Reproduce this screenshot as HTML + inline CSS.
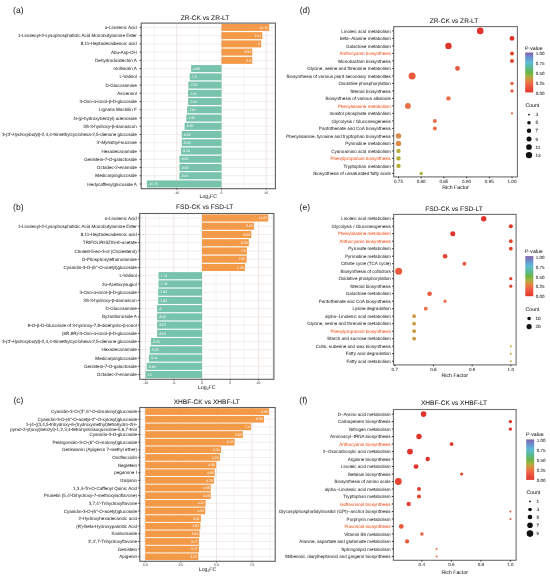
<!DOCTYPE html><html><head><meta charset="utf-8"><style>html,body{margin:0;padding:0;background:#fff;}svg{display:block;will-change:transform;text-rendering:geometricPrecision;}</style></head><body><div id="w">
<svg width="550" height="577" viewBox="0 0 550 577" font-family='"Liberation Sans", sans-serif'>
<rect width="550" height="577" fill="#fff"/>
<text x="13.10" y="13.40" font-size="8.5" text-anchor="start" fill="#2a2a2a" stroke="#2a2a2a" stroke-width="0.04">(a)</text>
<text x="205.00" y="20.40" font-size="6.6" text-anchor="middle" fill="#1a1a1a" stroke="#1a1a1a" stroke-width="0.04">ZR-CK vs ZR-LT</text>
<line x1="141.2" y1="27.40" x2="275.4" y2="27.40" stroke="#eee5e2" stroke-width="0.7"/>
<line x1="141.2" y1="35.64" x2="275.4" y2="35.64" stroke="#eee5e2" stroke-width="0.7"/>
<line x1="141.2" y1="43.88" x2="275.4" y2="43.88" stroke="#eee5e2" stroke-width="0.7"/>
<line x1="141.2" y1="52.12" x2="275.4" y2="52.12" stroke="#eee5e2" stroke-width="0.7"/>
<line x1="141.2" y1="60.36" x2="275.4" y2="60.36" stroke="#eee5e2" stroke-width="0.7"/>
<line x1="141.2" y1="68.60" x2="275.4" y2="68.60" stroke="#eee5e2" stroke-width="0.7"/>
<line x1="141.2" y1="76.84" x2="275.4" y2="76.84" stroke="#eee5e2" stroke-width="0.7"/>
<line x1="141.2" y1="85.08" x2="275.4" y2="85.08" stroke="#eee5e2" stroke-width="0.7"/>
<line x1="141.2" y1="93.32" x2="275.4" y2="93.32" stroke="#eee5e2" stroke-width="0.7"/>
<line x1="141.2" y1="101.56" x2="275.4" y2="101.56" stroke="#eee5e2" stroke-width="0.7"/>
<line x1="141.2" y1="109.80" x2="275.4" y2="109.80" stroke="#eee5e2" stroke-width="0.7"/>
<line x1="141.2" y1="118.04" x2="275.4" y2="118.04" stroke="#eee5e2" stroke-width="0.7"/>
<line x1="141.2" y1="126.28" x2="275.4" y2="126.28" stroke="#eee5e2" stroke-width="0.7"/>
<line x1="141.2" y1="134.52" x2="275.4" y2="134.52" stroke="#eee5e2" stroke-width="0.7"/>
<line x1="141.2" y1="142.76" x2="275.4" y2="142.76" stroke="#eee5e2" stroke-width="0.7"/>
<line x1="141.2" y1="151.00" x2="275.4" y2="151.00" stroke="#eee5e2" stroke-width="0.7"/>
<line x1="141.2" y1="159.24" x2="275.4" y2="159.24" stroke="#eee5e2" stroke-width="0.7"/>
<line x1="141.2" y1="167.48" x2="275.4" y2="167.48" stroke="#eee5e2" stroke-width="0.7"/>
<line x1="141.2" y1="175.72" x2="275.4" y2="175.72" stroke="#eee5e2" stroke-width="0.7"/>
<line x1="141.2" y1="183.96" x2="275.4" y2="183.96" stroke="#eee5e2" stroke-width="0.7"/>
<line x1="154.45" y1="23.1" x2="154.45" y2="188.7" stroke="#f4f0ee" stroke-width="0.8"/>
<line x1="199.15" y1="23.1" x2="199.15" y2="188.7" stroke="#f4f0ee" stroke-width="0.8"/>
<line x1="243.85" y1="23.1" x2="243.85" y2="188.7" stroke="#f4f0ee" stroke-width="0.8"/>
<line x1="176.80" y1="23.1" x2="176.80" y2="188.7" stroke="#ebe2df" stroke-width="0.9"/>
<line x1="221.50" y1="23.1" x2="221.50" y2="188.7" stroke="#ebe2df" stroke-width="0.9"/>
<line x1="266.20" y1="23.1" x2="266.20" y2="188.7" stroke="#ebe2df" stroke-width="0.9"/>
<rect x="221.50" y="23.90" width="47.69" height="7.00" fill="#f39a48"/>
<text x="267.99" y="28.60" font-size="3.4" text-anchor="end" fill="#fdf0e4" stroke="#fdf0e4" stroke-width="0.04">10.75</text>
<rect x="221.50" y="32.14" width="40.81" height="7.00" fill="#f39a48"/>
<text x="261.11" y="36.84" font-size="3.4" text-anchor="end" fill="#fdf0e4" stroke="#fdf0e4" stroke-width="0.04">9.11</text>
<rect x="221.50" y="40.38" width="39.69" height="7.00" fill="#f39a48"/>
<text x="259.99" y="45.08" font-size="3.4" text-anchor="end" fill="#fdf0e4" stroke="#fdf0e4" stroke-width="0.04">9</text>
<rect x="221.50" y="48.62" width="30.75" height="7.00" fill="#f39a48"/>
<text x="251.05" y="53.32" font-size="3.4" text-anchor="end" fill="#fdf0e4" stroke="#fdf0e4" stroke-width="0.04">6.93</text>
<rect x="221.50" y="56.86" width="30.75" height="7.00" fill="#f39a48"/>
<text x="251.05" y="61.56" font-size="3.4" text-anchor="end" fill="#fdf0e4" stroke="#fdf0e4" stroke-width="0.04">6.9</text>
<rect x="191.15" y="65.10" width="30.35" height="7.00" fill="#77c3ac"/>
<text x="192.35" y="69.80" font-size="3.4" text-anchor="start" fill="#eaf6f2" stroke="#eaf6f2" stroke-width="0.04">-6.86</text>
<rect x="189.67" y="73.34" width="31.83" height="7.00" fill="#77c3ac"/>
<text x="190.87" y="78.04" font-size="3.4" text-anchor="start" fill="#eaf6f2" stroke="#eaf6f2" stroke-width="0.04">-7.2</text>
<rect x="188.38" y="81.58" width="33.12" height="7.00" fill="#77c3ac"/>
<text x="189.58" y="86.28" font-size="3.4" text-anchor="start" fill="#eaf6f2" stroke="#eaf6f2" stroke-width="0.04">-7.50</text>
<rect x="188.06" y="89.82" width="33.44" height="7.00" fill="#77c3ac"/>
<text x="189.26" y="94.52" font-size="3.4" text-anchor="start" fill="#eaf6f2" stroke="#eaf6f2" stroke-width="0.04">-7.51</text>
<rect x="188.06" y="98.06" width="33.44" height="7.00" fill="#77c3ac"/>
<text x="189.26" y="102.76" font-size="3.4" text-anchor="start" fill="#eaf6f2" stroke="#eaf6f2" stroke-width="0.04">-7.54</text>
<rect x="187.17" y="106.30" width="34.33" height="7.00" fill="#77c3ac"/>
<text x="188.37" y="111.00" font-size="3.4" text-anchor="start" fill="#eaf6f2" stroke="#eaf6f2" stroke-width="0.04">-7.81</text>
<rect x="186.28" y="114.54" width="35.22" height="7.00" fill="#77c3ac"/>
<text x="187.48" y="119.24" font-size="3.4" text-anchor="start" fill="#eaf6f2" stroke="#eaf6f2" stroke-width="0.04">-7.87</text>
<rect x="184.58" y="122.78" width="36.92" height="7.00" fill="#77c3ac"/>
<text x="185.78" y="127.48" font-size="3.4" text-anchor="start" fill="#eaf6f2" stroke="#eaf6f2" stroke-width="0.04">-8.35</text>
<rect x="181.72" y="131.02" width="39.78" height="7.00" fill="#77c3ac"/>
<text x="182.92" y="135.72" font-size="3.4" text-anchor="start" fill="#eaf6f2" stroke="#eaf6f2" stroke-width="0.04">-8.86</text>
<rect x="181.72" y="139.26" width="39.78" height="7.00" fill="#77c3ac"/>
<text x="182.92" y="143.96" font-size="3.4" text-anchor="start" fill="#eaf6f2" stroke="#eaf6f2" stroke-width="0.04">-9.03</text>
<rect x="180.91" y="147.50" width="40.59" height="7.00" fill="#77c3ac"/>
<text x="182.11" y="152.20" font-size="3.4" text-anchor="start" fill="#eaf6f2" stroke="#eaf6f2" stroke-width="0.04">-9.19</text>
<rect x="179.44" y="155.74" width="42.06" height="7.00" fill="#77c3ac"/>
<text x="180.64" y="160.44" font-size="3.4" text-anchor="start" fill="#eaf6f2" stroke="#eaf6f2" stroke-width="0.04">-9.55</text>
<rect x="179.44" y="163.98" width="42.06" height="7.00" fill="#77c3ac"/>
<text x="180.64" y="168.68" font-size="3.4" text-anchor="start" fill="#eaf6f2" stroke="#eaf6f2" stroke-width="0.04">-9.58</text>
<rect x="179.44" y="172.22" width="42.06" height="7.00" fill="#77c3ac"/>
<text x="180.64" y="176.92" font-size="3.4" text-anchor="start" fill="#eaf6f2" stroke="#eaf6f2" stroke-width="0.04">-9.61</text>
<rect x="146.85" y="180.46" width="74.65" height="7.00" fill="#77c3ac"/>
<text x="148.05" y="185.16" font-size="3.4" text-anchor="start" fill="#eaf6f2" stroke="#eaf6f2" stroke-width="0.04">-16.76</text>
<rect x="141.2" y="23.1" width="134.2" height="165.6" fill="none" stroke="#5e5e5e" stroke-width="1.1"/>
<line x1="139.6" y1="27.40" x2="141.2" y2="27.40" stroke="#222" stroke-width="0.8"/>
<text x="136.80" y="29.00" font-size="4.55" text-anchor="end" fill="#303030" stroke="#303030" stroke-width="0.04">α-Linolenic Acid</text>
<line x1="139.6" y1="35.64" x2="141.2" y2="35.64" stroke="#222" stroke-width="0.8"/>
<text x="136.80" y="37.24" font-size="4.55" text-anchor="end" fill="#303030" stroke="#303030" stroke-width="0.04">1-Linoleoyl-2-Lysophosphatidic Acid Monobutylamine Ester</text>
<line x1="139.6" y1="43.88" x2="141.2" y2="43.88" stroke="#222" stroke-width="0.8"/>
<text x="136.80" y="45.48" font-size="4.55" text-anchor="end" fill="#303030" stroke="#303030" stroke-width="0.04">8,11-Heptadecadienoic acid</text>
<line x1="139.6" y1="52.12" x2="141.2" y2="52.12" stroke="#222" stroke-width="0.8"/>
<text x="136.80" y="53.72" font-size="4.55" text-anchor="end" fill="#303030" stroke="#303030" stroke-width="0.04">Abu-Asp-OH</text>
<line x1="139.6" y1="60.36" x2="141.2" y2="60.36" stroke="#222" stroke-width="0.8"/>
<text x="136.80" y="61.96" font-size="4.55" text-anchor="end" fill="#303030" stroke="#303030" stroke-width="0.04">Dehydrodicatechin A</text>
<line x1="139.6" y1="68.60" x2="141.2" y2="68.60" stroke="#222" stroke-width="0.8"/>
<text x="136.80" y="70.20" font-size="4.55" text-anchor="end" fill="#303030" stroke="#303030" stroke-width="0.04">mollisorin A</text>
<line x1="139.6" y1="76.84" x2="141.2" y2="76.84" stroke="#222" stroke-width="0.8"/>
<text x="136.80" y="78.44" font-size="4.55" text-anchor="end" fill="#303030" stroke="#303030" stroke-width="0.04">L-Valinol</text>
<line x1="139.6" y1="85.08" x2="141.2" y2="85.08" stroke="#222" stroke-width="0.8"/>
<text x="136.80" y="86.68" font-size="4.55" text-anchor="end" fill="#303030" stroke="#303030" stroke-width="0.04">D-Glucosamine</text>
<line x1="139.6" y1="93.32" x2="141.2" y2="93.32" stroke="#222" stroke-width="0.8"/>
<text x="136.80" y="94.92" font-size="4.55" text-anchor="end" fill="#303030" stroke="#303030" stroke-width="0.04">Avicennol</text>
<line x1="139.6" y1="101.56" x2="141.2" y2="101.56" stroke="#222" stroke-width="0.8"/>
<text x="136.80" y="103.16" font-size="4.55" text-anchor="end" fill="#303030" stroke="#303030" stroke-width="0.04">3-Oxo-α-ionol-β-D-glucoside</text>
<line x1="139.6" y1="109.80" x2="141.2" y2="109.80" stroke="#222" stroke-width="0.8"/>
<text x="136.80" y="111.40" font-size="4.55" text-anchor="end" fill="#303030" stroke="#303030" stroke-width="0.04">Lignans Machilin F</text>
<line x1="139.6" y1="118.04" x2="141.2" y2="118.04" stroke="#222" stroke-width="0.8"/>
<text x="136.80" y="119.64" font-size="4.55" text-anchor="end" fill="#303030" stroke="#303030" stroke-width="0.04">N-(p-hydroxybenzyl) adenosine</text>
<line x1="139.6" y1="126.28" x2="141.2" y2="126.28" stroke="#222" stroke-width="0.8"/>
<text x="136.80" y="127.88" font-size="4.55" text-anchor="end" fill="#303030" stroke="#303030" stroke-width="0.04">3S-3-hydroxy-β-damascon</text>
<line x1="139.6" y1="134.52" x2="141.2" y2="134.52" stroke="#222" stroke-width="0.8"/>
<text x="136.80" y="136.12" font-size="4.55" text-anchor="end" fill="#303030" stroke="#303030" stroke-width="0.04">3-<tspan font-style="italic">(3'-Hydroxybutyl)</tspan>-2,4,4-trimethylcyclohexa-2,5-dienone glucoside</text>
<line x1="139.6" y1="142.76" x2="141.2" y2="142.76" stroke="#222" stroke-width="0.8"/>
<text x="136.80" y="144.36" font-size="4.55" text-anchor="end" fill="#303030" stroke="#303030" stroke-width="0.04">3'-<tspan font-style="italic">Myristoyl</tspan>-sucrose</text>
<line x1="139.6" y1="151.00" x2="141.2" y2="151.00" stroke="#222" stroke-width="0.8"/>
<text x="136.80" y="152.60" font-size="4.55" text-anchor="end" fill="#303030" stroke="#303030" stroke-width="0.04">Hexadecanamide</text>
<line x1="139.6" y1="159.24" x2="141.2" y2="159.24" stroke="#222" stroke-width="0.8"/>
<text x="136.80" y="160.84" font-size="4.55" text-anchor="end" fill="#303030" stroke="#303030" stroke-width="0.04">Genistein-7-O-galactoside</text>
<line x1="139.6" y1="167.48" x2="141.2" y2="167.48" stroke="#222" stroke-width="0.8"/>
<text x="136.80" y="169.08" font-size="4.55" text-anchor="end" fill="#303030" stroke="#303030" stroke-width="0.04">Octadec-2-enamide</text>
<line x1="139.6" y1="175.72" x2="141.2" y2="175.72" stroke="#222" stroke-width="0.8"/>
<text x="136.80" y="177.32" font-size="4.55" text-anchor="end" fill="#303030" stroke="#303030" stroke-width="0.04">Medicarpinglucoside</text>
<line x1="139.6" y1="183.96" x2="141.2" y2="183.96" stroke="#222" stroke-width="0.8"/>
<text x="136.80" y="185.56" font-size="4.55" text-anchor="end" fill="#303030" stroke="#303030" stroke-width="0.04">Hedycaffeoylglucoside A</text>
<line x1="176.80" y1="188.7" x2="176.80" y2="190.1" stroke="#333" stroke-width="0.6"/>
<text x="176.80" y="193.70" font-size="3.4" text-anchor="middle" fill="#444" stroke="#444" stroke-width="0.04">-10</text>
<line x1="221.50" y1="188.7" x2="221.50" y2="190.1" stroke="#333" stroke-width="0.6"/>
<text x="221.50" y="193.70" font-size="3.4" text-anchor="middle" fill="#444" stroke="#444" stroke-width="0.04">0</text>
<line x1="266.20" y1="188.7" x2="266.20" y2="190.1" stroke="#333" stroke-width="0.6"/>
<text x="266.20" y="193.70" font-size="3.4" text-anchor="middle" fill="#444" stroke="#444" stroke-width="0.04">10</text>
<text x="208.30" y="197.50" font-size="5.2" text-anchor="middle" fill="#222">Log<tspan font-size="3.4" dy="1.2">2</tspan><tspan dy="-1.2">FC</tspan></text>
<text x="13.10" y="209.90" font-size="8.5" text-anchor="start" fill="#2a2a2a" stroke="#2a2a2a" stroke-width="0.04">(b)</text>
<text x="204.70" y="209.20" font-size="6.6" text-anchor="middle" fill="#1a1a1a" stroke="#1a1a1a" stroke-width="0.04">FSD-CK vs FSD-LT</text>
<line x1="139.7" y1="218.00" x2="273.9" y2="218.00" stroke="#eee5e2" stroke-width="0.7"/>
<line x1="139.7" y1="226.24" x2="273.9" y2="226.24" stroke="#eee5e2" stroke-width="0.7"/>
<line x1="139.7" y1="234.48" x2="273.9" y2="234.48" stroke="#eee5e2" stroke-width="0.7"/>
<line x1="139.7" y1="242.72" x2="273.9" y2="242.72" stroke="#eee5e2" stroke-width="0.7"/>
<line x1="139.7" y1="250.96" x2="273.9" y2="250.96" stroke="#eee5e2" stroke-width="0.7"/>
<line x1="139.7" y1="259.20" x2="273.9" y2="259.20" stroke="#eee5e2" stroke-width="0.7"/>
<line x1="139.7" y1="267.44" x2="273.9" y2="267.44" stroke="#eee5e2" stroke-width="0.7"/>
<line x1="139.7" y1="275.68" x2="273.9" y2="275.68" stroke="#eee5e2" stroke-width="0.7"/>
<line x1="139.7" y1="283.92" x2="273.9" y2="283.92" stroke="#eee5e2" stroke-width="0.7"/>
<line x1="139.7" y1="292.16" x2="273.9" y2="292.16" stroke="#eee5e2" stroke-width="0.7"/>
<line x1="139.7" y1="300.40" x2="273.9" y2="300.40" stroke="#eee5e2" stroke-width="0.7"/>
<line x1="139.7" y1="308.64" x2="273.9" y2="308.64" stroke="#eee5e2" stroke-width="0.7"/>
<line x1="139.7" y1="316.88" x2="273.9" y2="316.88" stroke="#eee5e2" stroke-width="0.7"/>
<line x1="139.7" y1="325.12" x2="273.9" y2="325.12" stroke="#eee5e2" stroke-width="0.7"/>
<line x1="139.7" y1="333.36" x2="273.9" y2="333.36" stroke="#eee5e2" stroke-width="0.7"/>
<line x1="139.7" y1="341.60" x2="273.9" y2="341.60" stroke="#eee5e2" stroke-width="0.7"/>
<line x1="139.7" y1="349.84" x2="273.9" y2="349.84" stroke="#eee5e2" stroke-width="0.7"/>
<line x1="139.7" y1="358.08" x2="273.9" y2="358.08" stroke="#eee5e2" stroke-width="0.7"/>
<line x1="139.7" y1="366.32" x2="273.9" y2="366.32" stroke="#eee5e2" stroke-width="0.7"/>
<line x1="139.7" y1="374.56" x2="273.9" y2="374.56" stroke="#eee5e2" stroke-width="0.7"/>
<line x1="159.70" y1="213.5" x2="159.70" y2="379.3" stroke="#f4f0ee" stroke-width="0.8"/>
<line x1="187.90" y1="213.5" x2="187.90" y2="379.3" stroke="#f4f0ee" stroke-width="0.8"/>
<line x1="216.10" y1="213.5" x2="216.10" y2="379.3" stroke="#f4f0ee" stroke-width="0.8"/>
<line x1="244.30" y1="213.5" x2="244.30" y2="379.3" stroke="#f4f0ee" stroke-width="0.8"/>
<line x1="272.50" y1="213.5" x2="272.50" y2="379.3" stroke="#f4f0ee" stroke-width="0.8"/>
<line x1="145.60" y1="213.5" x2="145.60" y2="379.3" stroke="#ebe2df" stroke-width="0.9"/>
<line x1="173.80" y1="213.5" x2="173.80" y2="379.3" stroke="#ebe2df" stroke-width="0.9"/>
<line x1="202.00" y1="213.5" x2="202.00" y2="379.3" stroke="#ebe2df" stroke-width="0.9"/>
<line x1="230.20" y1="213.5" x2="230.20" y2="379.3" stroke="#ebe2df" stroke-width="0.9"/>
<line x1="258.40" y1="213.5" x2="258.40" y2="379.3" stroke="#ebe2df" stroke-width="0.9"/>
<rect x="202.00" y="214.45" width="66.21" height="7.10" fill="#f39a48"/>
<text x="267.01" y="219.20" font-size="3.4" text-anchor="end" fill="#fdf0e4" stroke="#fdf0e4" stroke-width="0.04">11.03</text>
<rect x="202.00" y="222.69" width="51.89" height="7.10" fill="#f39a48"/>
<text x="252.69" y="227.44" font-size="3.4" text-anchor="end" fill="#fdf0e4" stroke="#fdf0e4" stroke-width="0.04">9.15</text>
<rect x="202.00" y="230.93" width="49.29" height="7.10" fill="#f39a48"/>
<text x="250.09" y="235.68" font-size="3.4" text-anchor="end" fill="#fdf0e4" stroke="#fdf0e4" stroke-width="0.04">8.58</text>
<rect x="202.00" y="239.17" width="46.81" height="7.10" fill="#f39a48"/>
<text x="247.61" y="243.92" font-size="3.4" text-anchor="end" fill="#fdf0e4" stroke="#fdf0e4" stroke-width="0.04">8.26</text>
<rect x="202.00" y="247.41" width="44.95" height="7.10" fill="#f39a48"/>
<text x="245.75" y="252.16" font-size="3.4" text-anchor="end" fill="#fdf0e4" stroke="#fdf0e4" stroke-width="0.04">7.9</text>
<rect x="202.00" y="255.65" width="44.61" height="7.10" fill="#f39a48"/>
<text x="245.41" y="260.40" font-size="3.4" text-anchor="end" fill="#fdf0e4" stroke="#fdf0e4" stroke-width="0.04">7.87</text>
<rect x="202.00" y="263.89" width="42.92" height="7.10" fill="#f39a48"/>
<text x="243.72" y="268.64" font-size="3.4" text-anchor="end" fill="#fdf0e4" stroke="#fdf0e4" stroke-width="0.04">7.59</text>
<rect x="158.52" y="272.13" width="43.48" height="7.10" fill="#77c3ac"/>
<text x="159.72" y="276.88" font-size="3.4" text-anchor="start" fill="#eaf6f2" stroke="#eaf6f2" stroke-width="0.04">-7.71</text>
<rect x="158.52" y="280.37" width="43.48" height="7.10" fill="#77c3ac"/>
<text x="159.72" y="285.12" font-size="3.4" text-anchor="start" fill="#eaf6f2" stroke="#eaf6f2" stroke-width="0.04">-7.79</text>
<rect x="158.18" y="288.61" width="43.82" height="7.10" fill="#77c3ac"/>
<text x="159.38" y="293.36" font-size="3.4" text-anchor="start" fill="#eaf6f2" stroke="#eaf6f2" stroke-width="0.04">-7.83</text>
<rect x="158.18" y="296.85" width="43.82" height="7.10" fill="#77c3ac"/>
<text x="159.38" y="301.60" font-size="3.4" text-anchor="start" fill="#eaf6f2" stroke="#eaf6f2" stroke-width="0.04">-7.83</text>
<rect x="157.11" y="305.09" width="44.89" height="7.10" fill="#77c3ac"/>
<text x="158.31" y="309.84" font-size="3.4" text-anchor="start" fill="#eaf6f2" stroke="#eaf6f2" stroke-width="0.04">-8</text>
<rect x="157.11" y="313.33" width="44.89" height="7.10" fill="#77c3ac"/>
<text x="158.31" y="318.08" font-size="3.4" text-anchor="start" fill="#eaf6f2" stroke="#eaf6f2" stroke-width="0.04">-8.00</text>
<rect x="157.11" y="321.57" width="44.89" height="7.10" fill="#77c3ac"/>
<text x="158.31" y="326.32" font-size="3.4" text-anchor="start" fill="#eaf6f2" stroke="#eaf6f2" stroke-width="0.04">-8.02</text>
<rect x="157.11" y="329.81" width="44.89" height="7.10" fill="#77c3ac"/>
<text x="158.31" y="334.56" font-size="3.4" text-anchor="start" fill="#eaf6f2" stroke="#eaf6f2" stroke-width="0.04">-8.02</text>
<rect x="150.96" y="338.05" width="51.04" height="7.10" fill="#77c3ac"/>
<text x="152.16" y="342.80" font-size="3.4" text-anchor="start" fill="#eaf6f2" stroke="#eaf6f2" stroke-width="0.04">-9.05</text>
<rect x="149.83" y="346.29" width="52.17" height="7.10" fill="#77c3ac"/>
<text x="151.03" y="351.04" font-size="3.4" text-anchor="start" fill="#eaf6f2" stroke="#eaf6f2" stroke-width="0.04">-9.25</text>
<rect x="148.87" y="354.53" width="53.13" height="7.10" fill="#77c3ac"/>
<text x="150.07" y="359.28" font-size="3.4" text-anchor="start" fill="#eaf6f2" stroke="#eaf6f2" stroke-width="0.04">-9.41</text>
<rect x="146.73" y="362.77" width="55.27" height="7.10" fill="#77c3ac"/>
<text x="147.93" y="367.52" font-size="3.4" text-anchor="start" fill="#eaf6f2" stroke="#eaf6f2" stroke-width="0.04">-9.84</text>
<rect x="145.49" y="371.01" width="56.51" height="7.10" fill="#77c3ac"/>
<text x="146.69" y="375.76" font-size="3.4" text-anchor="start" fill="#eaf6f2" stroke="#eaf6f2" stroke-width="0.04">-10</text>
<rect x="139.7" y="213.5" width="134.2" height="165.8" fill="none" stroke="#5e5e5e" stroke-width="1.1"/>
<line x1="138.1" y1="218.00" x2="139.7" y2="218.00" stroke="#222" stroke-width="0.8"/>
<text x="136.80" y="219.60" font-size="4.55" text-anchor="end" fill="#303030" stroke="#303030" stroke-width="0.04">α-Linolenic Acid</text>
<line x1="138.1" y1="226.24" x2="139.7" y2="226.24" stroke="#222" stroke-width="0.8"/>
<text x="136.80" y="227.84" font-size="4.55" text-anchor="end" fill="#303030" stroke="#303030" stroke-width="0.04">1-Linoleoyl-2-Lysophosphatidic Acid Monobutylamine Ester</text>
<line x1="138.1" y1="234.48" x2="139.7" y2="234.48" stroke="#222" stroke-width="0.8"/>
<text x="136.80" y="236.08" font-size="4.55" text-anchor="end" fill="#303030" stroke="#303030" stroke-width="0.04">8,11-Heptadecadienoic acid</text>
<line x1="138.1" y1="242.72" x2="139.7" y2="242.72" stroke="#222" stroke-width="0.8"/>
<text x="136.80" y="244.32" font-size="4.55" text-anchor="end" fill="#303030" stroke="#303030" stroke-width="0.04">TRIFOLIRHIZIN-6'-acetate</text>
<line x1="138.1" y1="250.96" x2="139.7" y2="250.96" stroke="#222" stroke-width="0.8"/>
<text x="136.80" y="252.56" font-size="4.55" text-anchor="end" fill="#303030" stroke="#303030" stroke-width="0.04">Cholest-5-en-3-ol (Cholesterol)</text>
<line x1="138.1" y1="259.20" x2="139.7" y2="259.20" stroke="#222" stroke-width="0.8"/>
<text x="136.80" y="260.80" font-size="4.55" text-anchor="end" fill="#303030" stroke="#303030" stroke-width="0.04">O-Phosphorylethanolamine</text>
<line x1="138.1" y1="267.44" x2="139.7" y2="267.44" stroke="#222" stroke-width="0.8"/>
<text x="136.80" y="269.04" font-size="4.55" text-anchor="end" fill="#303030" stroke="#303030" stroke-width="0.04">Cyanidin-3-O-(6''-O-acetyl)glucoside</text>
<line x1="138.1" y1="275.68" x2="139.7" y2="275.68" stroke="#222" stroke-width="0.8"/>
<text x="136.80" y="277.28" font-size="4.55" text-anchor="end" fill="#303030" stroke="#303030" stroke-width="0.04">L-Valinol</text>
<line x1="138.1" y1="283.92" x2="139.7" y2="283.92" stroke="#222" stroke-width="0.8"/>
<text x="136.80" y="285.52" font-size="4.55" text-anchor="end" fill="#303030" stroke="#303030" stroke-width="0.04">2α-Acetoxysugiol</text>
<line x1="138.1" y1="292.16" x2="139.7" y2="292.16" stroke="#222" stroke-width="0.8"/>
<text x="136.80" y="293.76" font-size="4.55" text-anchor="end" fill="#303030" stroke="#303030" stroke-width="0.04">3-Oxo-α-ionol-β-D-glucoside</text>
<line x1="138.1" y1="300.40" x2="139.7" y2="300.40" stroke="#222" stroke-width="0.8"/>
<text x="136.80" y="302.00" font-size="4.55" text-anchor="end" fill="#303030" stroke="#303030" stroke-width="0.04">3S-3-hydroxy-β-damascon</text>
<line x1="138.1" y1="308.64" x2="139.7" y2="308.64" stroke="#222" stroke-width="0.8"/>
<text x="136.80" y="310.24" font-size="4.55" text-anchor="end" fill="#303030" stroke="#303030" stroke-width="0.04">D-Glucosamine</text>
<line x1="138.1" y1="316.88" x2="139.7" y2="316.88" stroke="#222" stroke-width="0.8"/>
<text x="136.80" y="318.48" font-size="4.55" text-anchor="end" fill="#303030" stroke="#303030" stroke-width="0.04">Byzantionoside A</text>
<line x1="138.1" y1="325.12" x2="139.7" y2="325.12" stroke="#222" stroke-width="0.8"/>
<text x="136.80" y="326.72" font-size="4.55" text-anchor="end" fill="#303030" stroke="#303030" stroke-width="0.04">9-O-β-D-Glucoside of 3-hydroxy-7,8-didehydro-β-ionol</text>
<line x1="138.1" y1="333.36" x2="139.7" y2="333.36" stroke="#222" stroke-width="0.8"/>
<text x="136.80" y="334.96" font-size="4.55" text-anchor="end" fill="#303030" stroke="#303030" stroke-width="0.04">(6R,9R)-3-Oxo-α-ionol-β-D-glucoside</text>
<line x1="138.1" y1="341.60" x2="139.7" y2="341.60" stroke="#222" stroke-width="0.8"/>
<text x="136.80" y="343.20" font-size="4.55" text-anchor="end" fill="#303030" stroke="#303030" stroke-width="0.04">3-<tspan font-style="italic">(3'-Hydroxybutyl)</tspan>-2,4,4-trimethylcyclohexa-2,5-dienone glucoside</text>
<line x1="138.1" y1="349.84" x2="139.7" y2="349.84" stroke="#222" stroke-width="0.8"/>
<text x="136.80" y="351.44" font-size="4.55" text-anchor="end" fill="#303030" stroke="#303030" stroke-width="0.04">Hexadecanamide</text>
<line x1="138.1" y1="358.08" x2="139.7" y2="358.08" stroke="#222" stroke-width="0.8"/>
<text x="136.80" y="359.68" font-size="4.55" text-anchor="end" fill="#303030" stroke="#303030" stroke-width="0.04">Medicarpinglucoside</text>
<line x1="138.1" y1="366.32" x2="139.7" y2="366.32" stroke="#222" stroke-width="0.8"/>
<text x="136.80" y="367.92" font-size="4.55" text-anchor="end" fill="#303030" stroke="#303030" stroke-width="0.04">Genistein-7-O-galactoside</text>
<line x1="138.1" y1="374.56" x2="139.7" y2="374.56" stroke="#222" stroke-width="0.8"/>
<text x="136.80" y="376.16" font-size="4.55" text-anchor="end" fill="#303030" stroke="#303030" stroke-width="0.04">Octadec-2-enamide</text>
<line x1="145.60" y1="379.3" x2="145.60" y2="380.7" stroke="#333" stroke-width="0.6"/>
<text x="145.60" y="384.30" font-size="3.4" text-anchor="middle" fill="#444" stroke="#444" stroke-width="0.04">-10</text>
<line x1="173.80" y1="379.3" x2="173.80" y2="380.7" stroke="#333" stroke-width="0.6"/>
<text x="173.80" y="384.30" font-size="3.4" text-anchor="middle" fill="#444" stroke="#444" stroke-width="0.04">-5</text>
<line x1="202.00" y1="379.3" x2="202.00" y2="380.7" stroke="#333" stroke-width="0.6"/>
<text x="202.00" y="384.30" font-size="3.4" text-anchor="middle" fill="#444" stroke="#444" stroke-width="0.04">0</text>
<line x1="230.20" y1="379.3" x2="230.20" y2="380.7" stroke="#333" stroke-width="0.6"/>
<text x="230.20" y="384.30" font-size="3.4" text-anchor="middle" fill="#444" stroke="#444" stroke-width="0.04">5</text>
<line x1="258.40" y1="379.3" x2="258.40" y2="380.7" stroke="#333" stroke-width="0.6"/>
<text x="258.40" y="384.30" font-size="3.4" text-anchor="middle" fill="#444" stroke="#444" stroke-width="0.04">10</text>
<text x="206.80" y="389.00" font-size="5.2" text-anchor="middle" fill="#222">Log<tspan font-size="3.4" dy="1.2">2</tspan><tspan dy="-1.2">FC</tspan></text>
<text x="13.50" y="403.00" font-size="8.5" text-anchor="start" fill="#2a2a2a" stroke="#2a2a2a" stroke-width="0.04">(c)</text>
<text x="206.80" y="403.80" font-size="6.6" text-anchor="middle" fill="#1a1a1a" stroke="#1a1a1a" stroke-width="0.04">XHBF-CK vs XHBF-LT</text>
<line x1="139.8" y1="411.60" x2="275.2" y2="411.60" stroke="#eee5e2" stroke-width="0.7"/>
<line x1="139.8" y1="419.24" x2="275.2" y2="419.24" stroke="#eee5e2" stroke-width="0.7"/>
<line x1="139.8" y1="426.88" x2="275.2" y2="426.88" stroke="#eee5e2" stroke-width="0.7"/>
<line x1="139.8" y1="434.52" x2="275.2" y2="434.52" stroke="#eee5e2" stroke-width="0.7"/>
<line x1="139.8" y1="442.16" x2="275.2" y2="442.16" stroke="#eee5e2" stroke-width="0.7"/>
<line x1="139.8" y1="449.80" x2="275.2" y2="449.80" stroke="#eee5e2" stroke-width="0.7"/>
<line x1="139.8" y1="457.44" x2="275.2" y2="457.44" stroke="#eee5e2" stroke-width="0.7"/>
<line x1="139.8" y1="465.08" x2="275.2" y2="465.08" stroke="#eee5e2" stroke-width="0.7"/>
<line x1="139.8" y1="472.72" x2="275.2" y2="472.72" stroke="#eee5e2" stroke-width="0.7"/>
<line x1="139.8" y1="480.36" x2="275.2" y2="480.36" stroke="#eee5e2" stroke-width="0.7"/>
<line x1="139.8" y1="488.00" x2="275.2" y2="488.00" stroke="#eee5e2" stroke-width="0.7"/>
<line x1="139.8" y1="495.64" x2="275.2" y2="495.64" stroke="#eee5e2" stroke-width="0.7"/>
<line x1="139.8" y1="503.28" x2="275.2" y2="503.28" stroke="#eee5e2" stroke-width="0.7"/>
<line x1="139.8" y1="510.92" x2="275.2" y2="510.92" stroke="#eee5e2" stroke-width="0.7"/>
<line x1="139.8" y1="518.56" x2="275.2" y2="518.56" stroke="#eee5e2" stroke-width="0.7"/>
<line x1="139.8" y1="526.20" x2="275.2" y2="526.20" stroke="#eee5e2" stroke-width="0.7"/>
<line x1="139.8" y1="533.84" x2="275.2" y2="533.84" stroke="#eee5e2" stroke-width="0.7"/>
<line x1="139.8" y1="541.48" x2="275.2" y2="541.48" stroke="#eee5e2" stroke-width="0.7"/>
<line x1="139.8" y1="549.12" x2="275.2" y2="549.12" stroke="#eee5e2" stroke-width="0.7"/>
<line x1="139.8" y1="556.76" x2="275.2" y2="556.76" stroke="#eee5e2" stroke-width="0.7"/>
<line x1="163.01" y1="407.5" x2="163.01" y2="561.3" stroke="#f4f0ee" stroke-width="0.8"/>
<line x1="198.64" y1="407.5" x2="198.64" y2="561.3" stroke="#f4f0ee" stroke-width="0.8"/>
<line x1="234.26" y1="407.5" x2="234.26" y2="561.3" stroke="#f4f0ee" stroke-width="0.8"/>
<line x1="269.89" y1="407.5" x2="269.89" y2="561.3" stroke="#f4f0ee" stroke-width="0.8"/>
<line x1="145.20" y1="407.5" x2="145.20" y2="561.3" stroke="#ebe2df" stroke-width="0.9"/>
<line x1="180.82" y1="407.5" x2="180.82" y2="561.3" stroke="#ebe2df" stroke-width="0.9"/>
<line x1="216.45" y1="407.5" x2="216.45" y2="561.3" stroke="#ebe2df" stroke-width="0.9"/>
<line x1="252.07" y1="407.5" x2="252.07" y2="561.3" stroke="#ebe2df" stroke-width="0.9"/>
<rect x="145.20" y="408.25" width="123.83" height="6.70" fill="#f39a48"/>
<text x="267.83" y="412.80" font-size="3.4" text-anchor="end" fill="#fdf0e4" stroke="#fdf0e4" stroke-width="0.04">8.66</text>
<rect x="145.20" y="415.89" width="118.84" height="6.70" fill="#f39a48"/>
<text x="262.84" y="420.44" font-size="3.4" text-anchor="end" fill="#fdf0e4" stroke="#fdf0e4" stroke-width="0.04">8.33</text>
<rect x="145.20" y="423.53" width="105.74" height="6.70" fill="#f39a48"/>
<text x="249.74" y="428.08" font-size="3.4" text-anchor="end" fill="#fdf0e4" stroke="#fdf0e4" stroke-width="0.04">7.4</text>
<rect x="145.20" y="431.17" width="97.61" height="6.70" fill="#f39a48"/>
<text x="241.61" y="435.72" font-size="3.4" text-anchor="end" fill="#fdf0e4" stroke="#fdf0e4" stroke-width="0.04">6.83</text>
<rect x="145.20" y="438.81" width="89.35" height="6.70" fill="#f39a48"/>
<text x="233.35" y="443.36" font-size="3.4" text-anchor="end" fill="#fdf0e4" stroke="#fdf0e4" stroke-width="0.04">6.26</text>
<rect x="145.20" y="446.45" width="75.81" height="6.70" fill="#f39a48"/>
<text x="219.81" y="451.00" font-size="3.4" text-anchor="end" fill="#fdf0e4" stroke="#fdf0e4" stroke-width="0.04">5.31</text>
<rect x="145.20" y="454.09" width="74.67" height="6.70" fill="#f39a48"/>
<text x="218.67" y="458.64" font-size="3.4" text-anchor="end" fill="#fdf0e4" stroke="#fdf0e4" stroke-width="0.04">5.23</text>
<rect x="145.20" y="461.73" width="70.97" height="6.70" fill="#f39a48"/>
<text x="214.97" y="466.28" font-size="3.4" text-anchor="end" fill="#fdf0e4" stroke="#fdf0e4" stroke-width="0.04">4.95</text>
<rect x="145.20" y="469.37" width="69.54" height="6.70" fill="#f39a48"/>
<text x="213.54" y="473.92" font-size="3.4" text-anchor="end" fill="#fdf0e4" stroke="#fdf0e4" stroke-width="0.04">4.86</text>
<rect x="145.20" y="477.01" width="68.69" height="6.70" fill="#f39a48"/>
<text x="212.69" y="481.56" font-size="3.4" text-anchor="end" fill="#fdf0e4" stroke="#fdf0e4" stroke-width="0.04">4.79</text>
<rect x="145.20" y="484.65" width="65.55" height="6.70" fill="#f39a48"/>
<text x="209.55" y="489.20" font-size="3.4" text-anchor="end" fill="#fdf0e4" stroke="#fdf0e4" stroke-width="0.04">4.58</text>
<rect x="145.20" y="492.29" width="65.55" height="6.70" fill="#f39a48"/>
<text x="209.55" y="496.84" font-size="3.4" text-anchor="end" fill="#fdf0e4" stroke="#fdf0e4" stroke-width="0.04">4.58</text>
<rect x="145.20" y="499.93" width="60.42" height="6.70" fill="#f39a48"/>
<text x="204.42" y="504.48" font-size="3.4" text-anchor="end" fill="#fdf0e4" stroke="#fdf0e4" stroke-width="0.04">4.24</text>
<rect x="145.20" y="507.57" width="59.99" height="6.70" fill="#f39a48"/>
<text x="203.99" y="512.12" font-size="3.4" text-anchor="end" fill="#fdf0e4" stroke="#fdf0e4" stroke-width="0.04">4.21</text>
<rect x="145.20" y="515.21" width="55.72" height="6.70" fill="#f39a48"/>
<text x="199.72" y="519.76" font-size="3.4" text-anchor="end" fill="#fdf0e4" stroke="#fdf0e4" stroke-width="0.04">3.91</text>
<rect x="145.20" y="522.85" width="55.15" height="6.70" fill="#f39a48"/>
<text x="199.15" y="527.40" font-size="3.4" text-anchor="end" fill="#fdf0e4" stroke="#fdf0e4" stroke-width="0.04">3.87</text>
<rect x="145.20" y="530.49" width="54.29" height="6.70" fill="#f39a48"/>
<text x="198.29" y="535.04" font-size="3.4" text-anchor="end" fill="#fdf0e4" stroke="#fdf0e4" stroke-width="0.04">3.81</text>
<rect x="145.20" y="538.13" width="53.72" height="6.70" fill="#f39a48"/>
<text x="197.72" y="542.68" font-size="3.4" text-anchor="end" fill="#fdf0e4" stroke="#fdf0e4" stroke-width="0.04">3.77</text>
<rect x="145.20" y="545.77" width="53.72" height="6.70" fill="#f39a48"/>
<text x="197.72" y="550.32" font-size="3.4" text-anchor="end" fill="#fdf0e4" stroke="#fdf0e4" stroke-width="0.04">3.77</text>
<rect x="145.20" y="553.41" width="53.01" height="6.70" fill="#f39a48"/>
<text x="197.01" y="557.96" font-size="3.4" text-anchor="end" fill="#fdf0e4" stroke="#fdf0e4" stroke-width="0.04">3.72</text>
<rect x="139.8" y="407.5" width="135.39999999999998" height="153.79999999999995" fill="none" stroke="#5e5e5e" stroke-width="1.1"/>
<line x1="138.20000000000002" y1="411.60" x2="139.8" y2="411.60" stroke="#222" stroke-width="0.8"/>
<text x="137.00" y="413.20" font-size="4.55" text-anchor="end" fill="#303030" stroke="#303030" stroke-width="0.04">Cyanidin-3-O-(3'',6''-O-dimalonyl)glucoside</text>
<line x1="138.20000000000002" y1="419.24" x2="139.8" y2="419.24" stroke="#222" stroke-width="0.8"/>
<text x="137.00" y="420.84" font-size="4.55" text-anchor="end" fill="#303030" stroke="#303030" stroke-width="0.04">Cyanidin-3-O-(6''-O-acetyl-2''-O-xylosyl)glucoside</text>
<line x1="138.20000000000002" y1="426.88" x2="139.8" y2="426.88" stroke="#222" stroke-width="0.8"/>
<text x="137.00" y="425.68" font-size="4.55" text-anchor="end" fill="#303030" stroke="#303030" stroke-width="0.04">1-(4-((3,4,5-trihydroxy-6-(hydroxymethyl)tetrahydro-2H-</text>
<text x="137.00" y="431.08" font-size="4.55" text-anchor="end" fill="#303030" stroke="#303030" stroke-width="0.04">pyran-2-yl)oxy)benzyl)-1,2,3,4-tetrahydroisoquinoline-5,6,7-triol</text>
<line x1="138.20000000000002" y1="434.52" x2="139.8" y2="434.52" stroke="#222" stroke-width="0.8"/>
<text x="137.00" y="436.12" font-size="4.55" text-anchor="end" fill="#303030" stroke="#303030" stroke-width="0.04">Cyanidin-3-O-glucoside</text>
<line x1="138.20000000000002" y1="442.16" x2="139.8" y2="442.16" stroke="#222" stroke-width="0.8"/>
<text x="137.00" y="443.76" font-size="4.55" text-anchor="end" fill="#303030" stroke="#303030" stroke-width="0.04">Pelargonidin-3-O-(6''-O-malonyl)glucoside</text>
<line x1="138.20000000000002" y1="449.80" x2="139.8" y2="449.80" stroke="#222" stroke-width="0.8"/>
<text x="137.00" y="451.40" font-size="4.55" text-anchor="end" fill="#303030" stroke="#303030" stroke-width="0.04">Genkwanin (Apigenin 7-methyl ether)</text>
<line x1="138.20000000000002" y1="457.44" x2="139.8" y2="457.44" stroke="#222" stroke-width="0.8"/>
<text x="137.00" y="459.04" font-size="4.55" text-anchor="end" fill="#303030" stroke="#303030" stroke-width="0.04">Oxoflaccidin</text>
<line x1="138.20000000000002" y1="465.08" x2="139.8" y2="465.08" stroke="#222" stroke-width="0.8"/>
<text x="137.00" y="466.68" font-size="4.55" text-anchor="end" fill="#303030" stroke="#303030" stroke-width="0.04">Negletein</text>
<line x1="138.20000000000002" y1="472.72" x2="139.8" y2="472.72" stroke="#222" stroke-width="0.8"/>
<text x="137.00" y="474.32" font-size="4.55" text-anchor="end" fill="#303030" stroke="#303030" stroke-width="0.04">peganone Ⅰ</text>
<line x1="138.20000000000002" y1="480.36" x2="139.8" y2="480.36" stroke="#222" stroke-width="0.8"/>
<text x="137.00" y="481.96" font-size="4.55" text-anchor="end" fill="#303030" stroke="#303030" stroke-width="0.04">Izalpinin</text>
<line x1="138.20000000000002" y1="488.00" x2="139.8" y2="488.00" stroke="#222" stroke-width="0.8"/>
<text x="137.00" y="489.60" font-size="4.55" text-anchor="end" fill="#303030" stroke="#303030" stroke-width="0.04">1,3,4-Tri-O-Caffeoyl Quinic Acid</text>
<line x1="138.20000000000002" y1="495.64" x2="139.8" y2="495.64" stroke="#222" stroke-width="0.8"/>
<text x="137.00" y="497.24" font-size="4.55" text-anchor="end" fill="#303030" stroke="#303030" stroke-width="0.04">Prunetin (5,4'-Dihydroxy-7-methoxyisoflavone)</text>
<line x1="138.20000000000002" y1="503.28" x2="139.8" y2="503.28" stroke="#222" stroke-width="0.8"/>
<text x="137.00" y="504.88" font-size="4.55" text-anchor="end" fill="#303030" stroke="#303030" stroke-width="0.04">3,7,4'-Trihydroxyflavone</text>
<line x1="138.20000000000002" y1="510.92" x2="139.8" y2="510.92" stroke="#222" stroke-width="0.8"/>
<text x="137.00" y="512.52" font-size="4.55" text-anchor="end" fill="#303030" stroke="#303030" stroke-width="0.04">Cyanidin-3-O-(6''-O-acetyl)glucoside</text>
<line x1="138.20000000000002" y1="518.56" x2="139.8" y2="518.56" stroke="#222" stroke-width="0.8"/>
<text x="137.00" y="520.16" font-size="4.55" text-anchor="end" fill="#303030" stroke="#303030" stroke-width="0.04">2-Hydroxyhexadecanoic acid</text>
<line x1="138.20000000000002" y1="526.20" x2="139.8" y2="526.20" stroke="#222" stroke-width="0.8"/>
<text x="137.00" y="527.80" font-size="4.55" text-anchor="end" fill="#303030" stroke="#303030" stroke-width="0.04">(R)-Beta-Hydroxypalmitic Acid</text>
<line x1="138.20000000000002" y1="533.84" x2="139.8" y2="533.84" stroke="#222" stroke-width="0.8"/>
<text x="137.00" y="535.44" font-size="4.55" text-anchor="end" fill="#303030" stroke="#303030" stroke-width="0.04">Koaburaside</text>
<line x1="138.20000000000002" y1="541.48" x2="139.8" y2="541.48" stroke="#222" stroke-width="0.8"/>
<text x="137.00" y="543.08" font-size="4.55" text-anchor="end" fill="#303030" stroke="#303030" stroke-width="0.04">3',4',7-Trihydroxyflavone</text>
<line x1="138.20000000000002" y1="549.12" x2="139.8" y2="549.12" stroke="#222" stroke-width="0.8"/>
<text x="137.00" y="550.72" font-size="4.55" text-anchor="end" fill="#303030" stroke="#303030" stroke-width="0.04">Genistein</text>
<line x1="138.20000000000002" y1="556.76" x2="139.8" y2="556.76" stroke="#222" stroke-width="0.8"/>
<text x="137.00" y="558.36" font-size="4.55" text-anchor="end" fill="#303030" stroke="#303030" stroke-width="0.04">Apigenin</text>
<line x1="145.20" y1="561.3" x2="145.20" y2="562.6999999999999" stroke="#333" stroke-width="0.6"/>
<text x="145.20" y="566.30" font-size="3.4" text-anchor="middle" fill="#444" stroke="#444" stroke-width="0.04">0.0</text>
<line x1="180.82" y1="561.3" x2="180.82" y2="562.6999999999999" stroke="#333" stroke-width="0.6"/>
<text x="180.82" y="566.30" font-size="3.4" text-anchor="middle" fill="#444" stroke="#444" stroke-width="0.04">2.5</text>
<line x1="216.45" y1="561.3" x2="216.45" y2="562.6999999999999" stroke="#333" stroke-width="0.6"/>
<text x="216.45" y="566.30" font-size="3.4" text-anchor="middle" fill="#444" stroke="#444" stroke-width="0.04">5.0</text>
<line x1="252.07" y1="561.3" x2="252.07" y2="562.6999999999999" stroke="#333" stroke-width="0.6"/>
<text x="252.07" y="566.30" font-size="3.4" text-anchor="middle" fill="#444" stroke="#444" stroke-width="0.04">7.5</text>
<text x="207.50" y="571.00" font-size="5.2" text-anchor="middle" fill="#222">Log<tspan font-size="3.4" dy="1.2">2</tspan><tspan dy="-1.2">FC</tspan></text>
<text x="299.70" y="12.80" font-size="8.5" text-anchor="start" fill="#2a2a2a" stroke="#2a2a2a" stroke-width="0.04">(d)</text>
<text x="454.00" y="22.80" font-size="6.6" text-anchor="middle" fill="#1a1a1a" stroke="#1a1a1a" stroke-width="0.04">ZR-CK vs ZR-LT</text>
<rect x="393.7" y="26.6" width="123.69999999999999" height="150.3" fill="none" stroke="#6e6e6e" stroke-width="1.1"/>
<line x1="392.09999999999997" y1="30.90" x2="393.7" y2="30.90" stroke="#222" stroke-width="0.9"/>
<text x="390.90" y="32.50" font-size="4.55" text-anchor="end" fill="#303030" stroke="#303030" stroke-width="0.04">Linoleic acid metabolism</text>
<line x1="392.09999999999997" y1="38.40" x2="393.7" y2="38.40" stroke="#222" stroke-width="0.9"/>
<text x="390.90" y="40.00" font-size="4.55" text-anchor="end" fill="#303030" stroke="#303030" stroke-width="0.04">beta−Alanine metabolism</text>
<line x1="392.09999999999997" y1="45.90" x2="393.7" y2="45.90" stroke="#222" stroke-width="0.9"/>
<text x="390.90" y="47.50" font-size="4.55" text-anchor="end" fill="#303030" stroke="#303030" stroke-width="0.04">Galactose metabolism</text>
<line x1="392.09999999999997" y1="53.40" x2="393.7" y2="53.40" stroke="#222" stroke-width="0.9"/>
<text x="390.90" y="55.00" font-size="4.55" text-anchor="end" fill="#ee5724" stroke="#ee5724" stroke-width="0.04">Anthocyanin biosynthesis</text>
<line x1="392.09999999999997" y1="60.90" x2="393.7" y2="60.90" stroke="#222" stroke-width="0.9"/>
<text x="390.90" y="62.50" font-size="4.55" text-anchor="end" fill="#303030" stroke="#303030" stroke-width="0.04">Monobactam biosynthesis</text>
<line x1="392.09999999999997" y1="68.40" x2="393.7" y2="68.40" stroke="#222" stroke-width="0.9"/>
<text x="390.90" y="70.00" font-size="4.55" text-anchor="end" fill="#303030" stroke="#303030" stroke-width="0.04">Glycine, serine and threonine metabolism</text>
<line x1="392.09999999999997" y1="75.90" x2="393.7" y2="75.90" stroke="#222" stroke-width="0.9"/>
<text x="390.90" y="77.50" font-size="4.55" text-anchor="end" fill="#303030" stroke="#303030" stroke-width="0.04">Biosynthesis of various plant secondary metabolites</text>
<line x1="392.09999999999997" y1="83.40" x2="393.7" y2="83.40" stroke="#222" stroke-width="0.9"/>
<text x="390.90" y="85.00" font-size="4.55" text-anchor="end" fill="#303030" stroke="#303030" stroke-width="0.04">Oxidative phosphorylation</text>
<line x1="392.09999999999997" y1="90.90" x2="393.7" y2="90.90" stroke="#222" stroke-width="0.9"/>
<text x="390.90" y="92.50" font-size="4.55" text-anchor="end" fill="#303030" stroke="#303030" stroke-width="0.04">Steroid biosynthesis</text>
<line x1="392.09999999999997" y1="98.40" x2="393.7" y2="98.40" stroke="#222" stroke-width="0.9"/>
<text x="390.90" y="100.00" font-size="4.55" text-anchor="end" fill="#303030" stroke="#303030" stroke-width="0.04">Biosynthesis of various alkaloids</text>
<line x1="392.09999999999997" y1="105.90" x2="393.7" y2="105.90" stroke="#222" stroke-width="0.9"/>
<text x="390.90" y="107.50" font-size="4.55" text-anchor="end" fill="#ee5724" stroke="#ee5724" stroke-width="0.04">Phenylalanine metabolism</text>
<line x1="392.09999999999997" y1="113.40" x2="393.7" y2="113.40" stroke="#222" stroke-width="0.9"/>
<text x="390.90" y="115.00" font-size="4.55" text-anchor="end" fill="#303030" stroke="#303030" stroke-width="0.04">Inositol phosphate metabolism</text>
<line x1="392.09999999999997" y1="120.90" x2="393.7" y2="120.90" stroke="#222" stroke-width="0.9"/>
<text x="390.90" y="122.50" font-size="4.55" text-anchor="end" fill="#303030" stroke="#303030" stroke-width="0.04">Glycolysis / Gluconeogenesis</text>
<line x1="392.09999999999997" y1="128.40" x2="393.7" y2="128.40" stroke="#222" stroke-width="0.9"/>
<text x="390.90" y="130.00" font-size="4.55" text-anchor="end" fill="#303030" stroke="#303030" stroke-width="0.04">Pantothenate and CoA biosynthesis</text>
<line x1="392.09999999999997" y1="135.90" x2="393.7" y2="135.90" stroke="#222" stroke-width="0.9"/>
<text x="390.90" y="137.50" font-size="4.55" text-anchor="end" fill="#303030" stroke="#303030" stroke-width="0.04">Phenylalanine, tyrosine and tryptophan biosynthesis</text>
<line x1="392.09999999999997" y1="143.40" x2="393.7" y2="143.40" stroke="#222" stroke-width="0.9"/>
<text x="390.90" y="145.00" font-size="4.55" text-anchor="end" fill="#303030" stroke="#303030" stroke-width="0.04">Pyrimidine metabolism</text>
<line x1="392.09999999999997" y1="150.90" x2="393.7" y2="150.90" stroke="#222" stroke-width="0.9"/>
<text x="390.90" y="152.50" font-size="4.55" text-anchor="end" fill="#303030" stroke="#303030" stroke-width="0.04">Cyanoamino acid metabolism</text>
<line x1="392.09999999999997" y1="158.40" x2="393.7" y2="158.40" stroke="#222" stroke-width="0.9"/>
<text x="390.90" y="160.00" font-size="4.55" text-anchor="end" fill="#ee5724" stroke="#ee5724" stroke-width="0.04">Phenylpropanoid biosynthesis</text>
<line x1="392.09999999999997" y1="165.90" x2="393.7" y2="165.90" stroke="#222" stroke-width="0.9"/>
<text x="390.90" y="167.50" font-size="4.55" text-anchor="end" fill="#303030" stroke="#303030" stroke-width="0.04">Tryptophan metabolism</text>
<line x1="392.09999999999997" y1="173.40" x2="393.7" y2="173.40" stroke="#222" stroke-width="0.9"/>
<text x="390.90" y="175.00" font-size="4.55" text-anchor="end" fill="#303030" stroke="#303030" stroke-width="0.04">Biosynthesis of unsaturated fatty acids</text>
<circle cx="480.22" cy="30.90" r="3.3" fill="#e0332a"/>
<circle cx="512.00" cy="38.40" r="2.4" fill="#e0332a"/>
<circle cx="448.44" cy="45.90" r="3.2" fill="#e0332a"/>
<circle cx="512.00" cy="53.40" r="2.0" fill="#e4432f"/>
<circle cx="512.00" cy="60.90" r="2.0" fill="#e4432f"/>
<circle cx="457.52" cy="68.40" r="2.4" fill="#e85a3c"/>
<circle cx="412.12" cy="75.90" r="3.5" fill="#e85a3c"/>
<circle cx="512.00" cy="83.40" r="1.7" fill="#e85a3c"/>
<circle cx="512.00" cy="90.90" r="1.7" fill="#e85a3c"/>
<circle cx="448.44" cy="98.40" r="2.2" fill="#ec6e48"/>
<circle cx="407.90" cy="105.90" r="2.9" fill="#ec6e48"/>
<circle cx="512.00" cy="113.40" r="1.1" fill="#ec6e48"/>
<circle cx="434.82" cy="120.90" r="2.0" fill="#ec6e48"/>
<circle cx="434.82" cy="128.40" r="2.0" fill="#ec6e48"/>
<circle cx="398.50" cy="135.90" r="2.7" fill="#dc8a4a"/>
<circle cx="398.50" cy="143.40" r="2.7" fill="#dc8a4a"/>
<circle cx="398.50" cy="150.90" r="2.2" fill="#b8ae3c"/>
<circle cx="398.50" cy="158.40" r="2.2" fill="#b8ae3c"/>
<circle cx="398.50" cy="165.90" r="2.2" fill="#b8ae3c"/>
<circle cx="421.20" cy="173.40" r="1.7" fill="#a8b23c"/>
<line x1="398.50" y1="176.9" x2="398.50" y2="178.20000000000002" stroke="#111" stroke-width="0.9"/>
<text x="398.50" y="183.40" font-size="4.6" text-anchor="middle" fill="#333" stroke="#333" stroke-width="0.04">0.75</text>
<line x1="421.20" y1="176.9" x2="421.20" y2="178.20000000000002" stroke="#111" stroke-width="0.9"/>
<text x="421.20" y="183.40" font-size="4.6" text-anchor="middle" fill="#333" stroke="#333" stroke-width="0.04">0.80</text>
<line x1="443.90" y1="176.9" x2="443.90" y2="178.20000000000002" stroke="#111" stroke-width="0.9"/>
<text x="443.90" y="183.40" font-size="4.6" text-anchor="middle" fill="#333" stroke="#333" stroke-width="0.04">0.85</text>
<line x1="466.60" y1="176.9" x2="466.60" y2="178.20000000000002" stroke="#111" stroke-width="0.9"/>
<text x="466.60" y="183.40" font-size="4.6" text-anchor="middle" fill="#333" stroke="#333" stroke-width="0.04">0.90</text>
<line x1="489.30" y1="176.9" x2="489.30" y2="178.20000000000002" stroke="#111" stroke-width="0.9"/>
<text x="489.30" y="183.40" font-size="4.6" text-anchor="middle" fill="#333" stroke="#333" stroke-width="0.04">0.95</text>
<line x1="512.00" y1="176.9" x2="512.00" y2="178.20000000000002" stroke="#111" stroke-width="0.9"/>
<text x="512.00" y="183.40" font-size="4.6" text-anchor="middle" fill="#333" stroke="#333" stroke-width="0.04">1.00</text>
<text x="455.55" y="189.00" font-size="5.2" text-anchor="middle" fill="#222" stroke="#222" stroke-width="0.04">Rich Factor</text>
<text x="525.00" y="49.50" font-size="5.2" text-anchor="start" fill="#222" stroke="#222" stroke-width="0.04">P-value</text>
<defs><linearGradient id="gd" x1="0" y1="0" x2="0" y2="1"><stop offset="0" stop-color="#8560a8"/><stop offset="0.12" stop-color="#6a8fd0"/><stop offset="0.25" stop-color="#5cbcd4"/><stop offset="0.4" stop-color="#5cb88a"/><stop offset="0.5" stop-color="#6cb545"/><stop offset="0.6" stop-color="#a4b040"/><stop offset="0.7" stop-color="#e0883c"/><stop offset="0.8" stop-color="#ee6448"/><stop offset="1" stop-color="#e2362c"/></linearGradient></defs>
<rect x="525.2" y="52.5" width="8" height="39.900000000000006" fill="url(#gd)"/>
<text x="535.70" y="55.10" font-size="4.5" text-anchor="start" fill="#1a1a1a" stroke="#1a1a1a" stroke-width="0.04">1.00</text>
<text x="535.70" y="64.95" font-size="4.5" text-anchor="start" fill="#1a1a1a" stroke="#1a1a1a" stroke-width="0.04">0.75</text>
<text x="535.70" y="74.80" font-size="4.5" text-anchor="start" fill="#1a1a1a" stroke="#1a1a1a" stroke-width="0.04">0.50</text>
<text x="535.70" y="84.65" font-size="4.5" text-anchor="start" fill="#1a1a1a" stroke="#1a1a1a" stroke-width="0.04">0.25</text>
<text x="535.70" y="94.50" font-size="4.5" text-anchor="start" fill="#1a1a1a" stroke="#1a1a1a" stroke-width="0.04">0.00</text>
<text x="525.40" y="107.30" font-size="5.2" text-anchor="start" fill="#222" stroke="#222" stroke-width="0.04">Count</text>
<circle cx="529.0" cy="114.6" r="0.9" fill="#111"/>
<text x="535.40" y="116.20" font-size="4.7" text-anchor="start" fill="#111" stroke="#111" stroke-width="0.04">3</text>
<circle cx="529.0" cy="122.7" r="1.8" fill="#111"/>
<text x="535.40" y="124.30" font-size="4.7" text-anchor="start" fill="#111" stroke="#111" stroke-width="0.04">5</text>
<circle cx="529.0" cy="130.8" r="2.2" fill="#111"/>
<text x="535.40" y="132.40" font-size="4.7" text-anchor="start" fill="#111" stroke="#111" stroke-width="0.04">7</text>
<circle cx="529.0" cy="139.0" r="2.5" fill="#111"/>
<text x="535.40" y="140.60" font-size="4.7" text-anchor="start" fill="#111" stroke="#111" stroke-width="0.04">9</text>
<circle cx="529.0" cy="147.0" r="2.85" fill="#111"/>
<text x="535.40" y="148.60" font-size="4.7" text-anchor="start" fill="#111" stroke="#111" stroke-width="0.04">11</text>
<circle cx="529.0" cy="155.1" r="3.2" fill="#111"/>
<text x="535.40" y="156.70" font-size="4.7" text-anchor="start" fill="#111" stroke="#111" stroke-width="0.04">13</text>
<text x="299.60" y="210.00" font-size="8.5" text-anchor="start" fill="#2a2a2a" stroke="#2a2a2a" stroke-width="0.04">(e)</text>
<text x="454.00" y="210.90" font-size="6.6" text-anchor="middle" fill="#1a1a1a" stroke="#1a1a1a" stroke-width="0.04">FSD-CK vs FSD-LT</text>
<rect x="393.6" y="214.4" width="122.5" height="150.49999999999997" fill="none" stroke="#6e6e6e" stroke-width="1.1"/>
<line x1="392.0" y1="218.70" x2="393.6" y2="218.70" stroke="#222" stroke-width="0.9"/>
<text x="390.80" y="220.30" font-size="4.55" text-anchor="end" fill="#303030" stroke="#303030" stroke-width="0.04">Linoleic acid metabolism</text>
<line x1="392.0" y1="226.20" x2="393.6" y2="226.20" stroke="#222" stroke-width="0.9"/>
<text x="390.80" y="227.80" font-size="4.55" text-anchor="end" fill="#303030" stroke="#303030" stroke-width="0.04">Glycolysis / Gluconeogenesis</text>
<line x1="392.0" y1="233.70" x2="393.6" y2="233.70" stroke="#222" stroke-width="0.9"/>
<text x="390.80" y="235.30" font-size="4.55" text-anchor="end" fill="#ee5724" stroke="#ee5724" stroke-width="0.04">Phenylalanine metabolism</text>
<line x1="392.0" y1="241.20" x2="393.6" y2="241.20" stroke="#222" stroke-width="0.9"/>
<text x="390.80" y="242.80" font-size="4.55" text-anchor="end" fill="#ee5724" stroke="#ee5724" stroke-width="0.04">Anthocyanin biosynthesis</text>
<line x1="392.0" y1="248.70" x2="393.6" y2="248.70" stroke="#222" stroke-width="0.9"/>
<text x="390.80" y="250.30" font-size="4.55" text-anchor="end" fill="#303030" stroke="#303030" stroke-width="0.04">Pyruvate metabolism</text>
<line x1="392.0" y1="256.20" x2="393.6" y2="256.20" stroke="#222" stroke-width="0.9"/>
<text x="390.80" y="257.80" font-size="4.55" text-anchor="end" fill="#303030" stroke="#303030" stroke-width="0.04">Pyrimidine metabolism</text>
<line x1="392.0" y1="263.70" x2="393.6" y2="263.70" stroke="#222" stroke-width="0.9"/>
<text x="390.80" y="265.30" font-size="4.55" text-anchor="end" fill="#303030" stroke="#303030" stroke-width="0.04">Citrate cycle (TCA cycle)</text>
<line x1="392.0" y1="271.20" x2="393.6" y2="271.20" stroke="#222" stroke-width="0.9"/>
<text x="390.80" y="272.80" font-size="4.55" text-anchor="end" fill="#303030" stroke="#303030" stroke-width="0.04">Biosynthesis of cofactors</text>
<line x1="392.0" y1="278.70" x2="393.6" y2="278.70" stroke="#222" stroke-width="0.9"/>
<text x="390.80" y="280.30" font-size="4.55" text-anchor="end" fill="#303030" stroke="#303030" stroke-width="0.04">Oxidative phosphorylation</text>
<line x1="392.0" y1="286.20" x2="393.6" y2="286.20" stroke="#222" stroke-width="0.9"/>
<text x="390.80" y="287.80" font-size="4.55" text-anchor="end" fill="#303030" stroke="#303030" stroke-width="0.04">Steroid biosynthesis</text>
<line x1="392.0" y1="293.70" x2="393.6" y2="293.70" stroke="#222" stroke-width="0.9"/>
<text x="390.80" y="295.30" font-size="4.55" text-anchor="end" fill="#303030" stroke="#303030" stroke-width="0.04">Galactose metabolism</text>
<line x1="392.0" y1="301.20" x2="393.6" y2="301.20" stroke="#222" stroke-width="0.9"/>
<text x="390.80" y="302.80" font-size="4.55" text-anchor="end" fill="#303030" stroke="#303030" stroke-width="0.04">Pantothenate and CoA biosynthesis</text>
<line x1="392.0" y1="308.70" x2="393.6" y2="308.70" stroke="#222" stroke-width="0.9"/>
<text x="390.80" y="310.30" font-size="4.55" text-anchor="end" fill="#303030" stroke="#303030" stroke-width="0.04">Lysine degradation</text>
<line x1="392.0" y1="316.20" x2="393.6" y2="316.20" stroke="#222" stroke-width="0.9"/>
<text x="390.80" y="317.80" font-size="4.55" text-anchor="end" fill="#303030" stroke="#303030" stroke-width="0.04">alpha−Linolenic acid metabolism</text>
<line x1="392.0" y1="323.70" x2="393.6" y2="323.70" stroke="#222" stroke-width="0.9"/>
<text x="390.80" y="325.30" font-size="4.55" text-anchor="end" fill="#303030" stroke="#303030" stroke-width="0.04">Glycine, serine and threonine metabolism</text>
<line x1="392.0" y1="331.20" x2="393.6" y2="331.20" stroke="#222" stroke-width="0.9"/>
<text x="390.80" y="332.80" font-size="4.55" text-anchor="end" fill="#ee5724" stroke="#ee5724" stroke-width="0.04">Phenylpropanoid biosynthesis</text>
<line x1="392.0" y1="338.70" x2="393.6" y2="338.70" stroke="#222" stroke-width="0.9"/>
<text x="390.80" y="340.30" font-size="4.55" text-anchor="end" fill="#303030" stroke="#303030" stroke-width="0.04">Starch and sucrose metabolism</text>
<line x1="392.0" y1="346.20" x2="393.6" y2="346.20" stroke="#222" stroke-width="0.9"/>
<text x="390.80" y="347.80" font-size="4.55" text-anchor="end" fill="#303030" stroke="#303030" stroke-width="0.04">Cutin, suberine and wax biosynthesis</text>
<line x1="392.0" y1="353.70" x2="393.6" y2="353.70" stroke="#222" stroke-width="0.9"/>
<text x="390.80" y="355.30" font-size="4.55" text-anchor="end" fill="#303030" stroke="#303030" stroke-width="0.04">Fatty acid degradation</text>
<line x1="392.0" y1="361.20" x2="393.6" y2="361.20" stroke="#222" stroke-width="0.9"/>
<text x="390.80" y="362.80" font-size="4.55" text-anchor="end" fill="#303030" stroke="#303030" stroke-width="0.04">Fatty acid metabolism</text>
<circle cx="483.74" cy="218.70" r="2.7" fill="#e0332a"/>
<circle cx="510.81" cy="226.20" r="2.0" fill="#e0332a"/>
<circle cx="452.81" cy="233.70" r="2.5" fill="#e0332a"/>
<circle cx="510.81" cy="241.20" r="1.9" fill="#e4432f"/>
<circle cx="510.81" cy="248.70" r="1.9" fill="#e4432f"/>
<circle cx="445.07" cy="256.20" r="2.3" fill="#e4432f"/>
<circle cx="464.41" cy="263.70" r="2.0" fill="#e85a3c"/>
<circle cx="398.67" cy="271.20" r="3.5" fill="#e85a3c"/>
<circle cx="510.81" cy="278.70" r="1.6" fill="#e4432f"/>
<circle cx="510.81" cy="286.20" r="1.6" fill="#e4432f"/>
<circle cx="429.60" cy="293.70" r="2.3" fill="#e85a3c"/>
<circle cx="445.07" cy="301.20" r="1.6" fill="#ec6e48"/>
<circle cx="425.74" cy="308.70" r="1.9" fill="#ec6e48"/>
<circle cx="414.14" cy="316.20" r="1.85" fill="#c8983c"/>
<circle cx="414.14" cy="323.70" r="1.85" fill="#c8983c"/>
<circle cx="414.14" cy="331.20" r="1.85" fill="#c8983c"/>
<circle cx="414.14" cy="338.70" r="1.85" fill="#c8983c"/>
<circle cx="510.81" cy="346.20" r="1.0" fill="#c4a83a"/>
<circle cx="510.81" cy="353.70" r="1.0" fill="#c4a83a"/>
<circle cx="510.81" cy="361.20" r="1.0" fill="#c4a83a"/>
<line x1="394.80" y1="364.9" x2="394.80" y2="366.2" stroke="#111" stroke-width="0.9"/>
<text x="394.80" y="371.40" font-size="4.6" text-anchor="middle" fill="#333" stroke="#333" stroke-width="0.04">0.7</text>
<line x1="433.47" y1="364.9" x2="433.47" y2="366.2" stroke="#111" stroke-width="0.9"/>
<text x="433.47" y="371.40" font-size="4.6" text-anchor="middle" fill="#333" stroke="#333" stroke-width="0.04">0.8</text>
<line x1="472.14" y1="364.9" x2="472.14" y2="366.2" stroke="#111" stroke-width="0.9"/>
<text x="472.14" y="371.40" font-size="4.6" text-anchor="middle" fill="#333" stroke="#333" stroke-width="0.04">0.9</text>
<line x1="510.81" y1="364.9" x2="510.81" y2="366.2" stroke="#111" stroke-width="0.9"/>
<text x="510.81" y="371.40" font-size="4.6" text-anchor="middle" fill="#333" stroke="#333" stroke-width="0.04">1.0</text>
<text x="454.85" y="377.00" font-size="5.2" text-anchor="middle" fill="#222" stroke="#222" stroke-width="0.04">Rich Factor</text>
<text x="525.10" y="253.40" font-size="5.2" text-anchor="start" fill="#222" stroke="#222" stroke-width="0.04">P-value</text>
<defs><linearGradient id="ge" x1="0" y1="0" x2="0" y2="1"><stop offset="0" stop-color="#8560a8"/><stop offset="0.12" stop-color="#6a8fd0"/><stop offset="0.25" stop-color="#5cbcd4"/><stop offset="0.4" stop-color="#5cb88a"/><stop offset="0.5" stop-color="#6cb545"/><stop offset="0.6" stop-color="#a4b040"/><stop offset="0.7" stop-color="#e0883c"/><stop offset="0.8" stop-color="#ee6448"/><stop offset="1" stop-color="#e2362c"/></linearGradient></defs>
<rect x="525.3000000000001" y="256.1" width="8" height="40.099999999999966" fill="url(#ge)"/>
<text x="535.80" y="258.70" font-size="4.5" text-anchor="start" fill="#1a1a1a" stroke="#1a1a1a" stroke-width="0.04">1.00</text>
<text x="535.80" y="268.60" font-size="4.5" text-anchor="start" fill="#1a1a1a" stroke="#1a1a1a" stroke-width="0.04">0.75</text>
<text x="535.80" y="278.50" font-size="4.5" text-anchor="start" fill="#1a1a1a" stroke="#1a1a1a" stroke-width="0.04">0.50</text>
<text x="535.80" y="288.40" font-size="4.5" text-anchor="start" fill="#1a1a1a" stroke="#1a1a1a" stroke-width="0.04">0.25</text>
<text x="535.80" y="298.30" font-size="4.5" text-anchor="start" fill="#1a1a1a" stroke="#1a1a1a" stroke-width="0.04">0.00</text>
<text x="525.50" y="311.10" font-size="5.2" text-anchor="start" fill="#222" stroke="#222" stroke-width="0.04">Count</text>
<circle cx="529.1" cy="318.5" r="1.8" fill="#111"/>
<text x="535.50" y="320.10" font-size="4.7" text-anchor="start" fill="#111" stroke="#111" stroke-width="0.04">10</text>
<circle cx="529.1" cy="326.6" r="2.6" fill="#111"/>
<text x="535.50" y="328.20" font-size="4.7" text-anchor="start" fill="#111" stroke="#111" stroke-width="0.04">20</text>
<text x="299.30" y="402.60" font-size="8.5" text-anchor="start" fill="#2a2a2a" stroke="#2a2a2a" stroke-width="0.04">(f)</text>
<text x="454.00" y="404.80" font-size="6.6" text-anchor="middle" fill="#1a1a1a" stroke="#1a1a1a" stroke-width="0.04">XHBF-CK vs XHBF-LT</text>
<rect x="393.4" y="409.5" width="122.70000000000005" height="150.79999999999995" fill="none" stroke="#6e6e6e" stroke-width="1.1"/>
<line x1="391.79999999999995" y1="414.10" x2="393.4" y2="414.10" stroke="#222" stroke-width="0.9"/>
<text x="390.60" y="415.70" font-size="4.55" text-anchor="end" fill="#303030" stroke="#303030" stroke-width="0.04">D−Amino acid metabolism</text>
<line x1="391.79999999999995" y1="421.59" x2="393.4" y2="421.59" stroke="#222" stroke-width="0.9"/>
<text x="390.60" y="423.19" font-size="4.55" text-anchor="end" fill="#303030" stroke="#303030" stroke-width="0.04">Carbapenem biosynthesis</text>
<line x1="391.79999999999995" y1="429.08" x2="393.4" y2="429.08" stroke="#222" stroke-width="0.9"/>
<text x="390.60" y="430.68" font-size="4.55" text-anchor="end" fill="#303030" stroke="#303030" stroke-width="0.04">Nitrogen metabolism</text>
<line x1="391.79999999999995" y1="436.57" x2="393.4" y2="436.57" stroke="#222" stroke-width="0.9"/>
<text x="390.60" y="438.17" font-size="4.55" text-anchor="end" fill="#303030" stroke="#303030" stroke-width="0.04">Aminoacyl−tRNA biosynthesis</text>
<line x1="391.79999999999995" y1="444.06" x2="393.4" y2="444.06" stroke="#222" stroke-width="0.9"/>
<text x="390.60" y="445.66" font-size="4.55" text-anchor="end" fill="#ee5724" stroke="#ee5724" stroke-width="0.04">Anthocyanin biosynthesis</text>
<line x1="391.79999999999995" y1="451.55" x2="393.4" y2="451.55" stroke="#222" stroke-width="0.9"/>
<text x="390.60" y="453.15" font-size="4.55" text-anchor="end" fill="#303030" stroke="#303030" stroke-width="0.04">2−Oxocarboxylic acid metabolism</text>
<line x1="391.79999999999995" y1="459.04" x2="393.4" y2="459.04" stroke="#222" stroke-width="0.9"/>
<text x="390.60" y="460.64" font-size="4.55" text-anchor="end" fill="#303030" stroke="#303030" stroke-width="0.04">Arginine biosynthesis</text>
<line x1="391.79999999999995" y1="466.53" x2="393.4" y2="466.53" stroke="#222" stroke-width="0.9"/>
<text x="390.60" y="468.13" font-size="4.55" text-anchor="end" fill="#303030" stroke="#303030" stroke-width="0.04">Linoleic acid metabolism</text>
<line x1="391.79999999999995" y1="474.02" x2="393.4" y2="474.02" stroke="#222" stroke-width="0.9"/>
<text x="390.60" y="475.62" font-size="4.55" text-anchor="end" fill="#303030" stroke="#303030" stroke-width="0.04">Betalain biosynthesis</text>
<line x1="391.79999999999995" y1="481.51" x2="393.4" y2="481.51" stroke="#222" stroke-width="0.9"/>
<text x="390.60" y="483.11" font-size="4.55" text-anchor="end" fill="#303030" stroke="#303030" stroke-width="0.04">Biosynthesis of amino acids</text>
<line x1="391.79999999999995" y1="489.00" x2="393.4" y2="489.00" stroke="#222" stroke-width="0.9"/>
<text x="390.60" y="490.60" font-size="4.55" text-anchor="end" fill="#303030" stroke="#303030" stroke-width="0.04">alpha−Linolenic acid metabolism</text>
<line x1="391.79999999999995" y1="496.49" x2="393.4" y2="496.49" stroke="#222" stroke-width="0.9"/>
<text x="390.60" y="498.09" font-size="4.55" text-anchor="end" fill="#303030" stroke="#303030" stroke-width="0.04">Tryptophan metabolism</text>
<line x1="391.79999999999995" y1="503.98" x2="393.4" y2="503.98" stroke="#222" stroke-width="0.9"/>
<text x="390.60" y="505.58" font-size="4.55" text-anchor="end" fill="#ee5724" stroke="#ee5724" stroke-width="0.04">Isoflavonoid biosynthesis</text>
<line x1="391.79999999999995" y1="511.47" x2="393.4" y2="511.47" stroke="#222" stroke-width="0.9"/>
<text x="390.60" y="513.07" font-size="4.55" text-anchor="end" fill="#303030" stroke="#303030" stroke-width="0.04">Glycosylphosphatidylinositol (GPI)−anchor biosynthesis</text>
<line x1="391.79999999999995" y1="518.96" x2="393.4" y2="518.96" stroke="#222" stroke-width="0.9"/>
<text x="390.60" y="520.56" font-size="4.55" text-anchor="end" fill="#303030" stroke="#303030" stroke-width="0.04">Porphyrin metabolism</text>
<line x1="391.79999999999995" y1="526.45" x2="393.4" y2="526.45" stroke="#222" stroke-width="0.9"/>
<text x="390.60" y="528.05" font-size="4.55" text-anchor="end" fill="#ee5724" stroke="#ee5724" stroke-width="0.04">Flavonoid biosynthesis</text>
<line x1="391.79999999999995" y1="533.94" x2="393.4" y2="533.94" stroke="#222" stroke-width="0.9"/>
<text x="390.60" y="535.54" font-size="4.55" text-anchor="end" fill="#303030" stroke="#303030" stroke-width="0.04">Vitamin B6 metabolism</text>
<line x1="391.79999999999995" y1="541.43" x2="393.4" y2="541.43" stroke="#222" stroke-width="0.9"/>
<text x="390.60" y="543.03" font-size="4.55" text-anchor="end" fill="#303030" stroke="#303030" stroke-width="0.04">Alanine, aspartate and glutamate metabolism</text>
<line x1="391.79999999999995" y1="548.92" x2="393.4" y2="548.92" stroke="#222" stroke-width="0.9"/>
<text x="390.60" y="550.52" font-size="4.55" text-anchor="end" fill="#303030" stroke="#303030" stroke-width="0.04">Sphingolipid metabolism</text>
<line x1="391.79999999999995" y1="556.41" x2="393.4" y2="556.41" stroke="#222" stroke-width="0.9"/>
<text x="390.60" y="558.01" font-size="4.55" text-anchor="end" fill="#303030" stroke="#303030" stroke-width="0.04">Stilbenoid, diarylheptanoid and gingerol biosynthesis</text>
<circle cx="423.57" cy="414.10" r="2.8" fill="#e0332a"/>
<circle cx="510.42" cy="421.59" r="1.7" fill="#e0332a"/>
<circle cx="510.42" cy="429.08" r="1.7" fill="#e0332a"/>
<circle cx="418.99" cy="436.57" r="2.7" fill="#e0332a"/>
<circle cx="451.58" cy="444.06" r="1.9" fill="#e0332a"/>
<circle cx="409.98" cy="451.55" r="2.9" fill="#e0332a"/>
<circle cx="427.71" cy="459.04" r="2.2" fill="#e0332a"/>
<circle cx="416.04" cy="466.53" r="2.4" fill="#e0332a"/>
<circle cx="461.68" cy="474.02" r="1.6" fill="#e4432f"/>
<circle cx="398.32" cy="481.51" r="3.4" fill="#e4432f"/>
<circle cx="418.99" cy="489.00" r="2.0" fill="#e4432f"/>
<circle cx="418.99" cy="496.49" r="2.0" fill="#e4432f"/>
<circle cx="408.65" cy="503.98" r="2.2" fill="#e4432f"/>
<circle cx="510.42" cy="511.47" r="1.0" fill="#e85a3c"/>
<circle cx="510.42" cy="518.96" r="1.0" fill="#e85a3c"/>
<circle cx="401.27" cy="526.45" r="2.4" fill="#e85a3c"/>
<circle cx="421.95" cy="533.94" r="1.7" fill="#e85a3c"/>
<circle cx="407.03" cy="541.43" r="2.1" fill="#e85a3c"/>
<circle cx="436.57" cy="548.92" r="1.0" fill="#ec6e48"/>
<circle cx="436.57" cy="556.41" r="1.0" fill="#ec6e48"/>
<line x1="421.80" y1="560.3" x2="421.80" y2="561.5999999999999" stroke="#111" stroke-width="0.9"/>
<text x="421.80" y="566.20" font-size="4.6" text-anchor="middle" fill="#333" stroke="#333" stroke-width="0.04">0.4</text>
<line x1="451.34" y1="560.3" x2="451.34" y2="561.5999999999999" stroke="#111" stroke-width="0.9"/>
<text x="451.34" y="566.20" font-size="4.6" text-anchor="middle" fill="#333" stroke="#333" stroke-width="0.04">0.6</text>
<line x1="480.88" y1="560.3" x2="480.88" y2="561.5999999999999" stroke="#111" stroke-width="0.9"/>
<text x="480.88" y="566.20" font-size="4.6" text-anchor="middle" fill="#333" stroke="#333" stroke-width="0.04">0.8</text>
<line x1="510.42" y1="560.3" x2="510.42" y2="561.5999999999999" stroke="#111" stroke-width="0.9"/>
<text x="510.42" y="566.20" font-size="4.6" text-anchor="middle" fill="#333" stroke="#333" stroke-width="0.04">1.0</text>
<text x="454.75" y="573.70" font-size="5.2" text-anchor="middle" fill="#222" stroke="#222" stroke-width="0.04">Rich Factor</text>
<text x="526.00" y="436.20" font-size="5.2" text-anchor="start" fill="#222" stroke="#222" stroke-width="0.04">P-value</text>
<defs><linearGradient id="gf" x1="0" y1="0" x2="0" y2="1"><stop offset="0" stop-color="#8560a8"/><stop offset="0.12" stop-color="#6a8fd0"/><stop offset="0.25" stop-color="#5cbcd4"/><stop offset="0.4" stop-color="#5cb88a"/><stop offset="0.5" stop-color="#6cb545"/><stop offset="0.6" stop-color="#a4b040"/><stop offset="0.7" stop-color="#e0883c"/><stop offset="0.8" stop-color="#ee6448"/><stop offset="1" stop-color="#e2362c"/></linearGradient></defs>
<rect x="526.2" y="439.4" width="8" height="40.5" fill="url(#gf)"/>
<text x="536.70" y="442.00" font-size="4.5" text-anchor="start" fill="#1a1a1a" stroke="#1a1a1a" stroke-width="0.04">1.00</text>
<text x="536.70" y="452.00" font-size="4.5" text-anchor="start" fill="#1a1a1a" stroke="#1a1a1a" stroke-width="0.04">0.75</text>
<text x="536.70" y="462.00" font-size="4.5" text-anchor="start" fill="#1a1a1a" stroke="#1a1a1a" stroke-width="0.04">0.50</text>
<text x="536.70" y="472.00" font-size="4.5" text-anchor="start" fill="#1a1a1a" stroke="#1a1a1a" stroke-width="0.04">0.25</text>
<text x="536.70" y="482.00" font-size="4.5" text-anchor="start" fill="#1a1a1a" stroke="#1a1a1a" stroke-width="0.04">0.00</text>
<text x="526.40" y="494.40" font-size="5.2" text-anchor="start" fill="#222" stroke="#222" stroke-width="0.04">Count</text>
<circle cx="530.0" cy="501.4" r="0.9" fill="#111"/>
<text x="536.40" y="503.00" font-size="4.7" text-anchor="start" fill="#111" stroke="#111" stroke-width="0.04">1</text>
<circle cx="530.0" cy="509.5" r="1.8" fill="#111"/>
<text x="536.40" y="511.10" font-size="4.7" text-anchor="start" fill="#111" stroke="#111" stroke-width="0.04">3</text>
<circle cx="530.0" cy="517.0" r="2.3" fill="#111"/>
<text x="536.40" y="518.60" font-size="4.7" text-anchor="start" fill="#111" stroke="#111" stroke-width="0.04">5</text>
<circle cx="530.0" cy="525.2" r="2.8" fill="#111"/>
<text x="536.40" y="526.80" font-size="4.7" text-anchor="start" fill="#111" stroke="#111" stroke-width="0.04">7</text>
<circle cx="530.0" cy="533.6" r="3.3" fill="#111"/>
<text x="536.40" y="535.20" font-size="4.7" text-anchor="start" fill="#111" stroke="#111" stroke-width="0.04">9</text>
</svg></div></body></html>
